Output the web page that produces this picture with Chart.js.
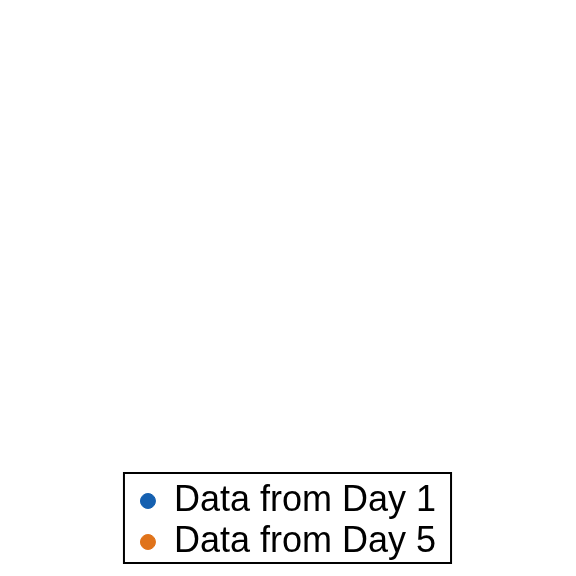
<!DOCTYPE html>
<html>
<head>
<meta charset="utf-8">
<script src="https://cdn.jsdelivr.net/npm/chart.js@4/dist/chart.umd.min.js"></script>
<style>
  html, body { margin: 0; padding: 0; background: #fff; }
  #wrap { width: 576px; height: 576px; position: relative; }
</style>
</head>
<body>
<div id="wrap"><canvas id="chart"></canvas></div>
<script>
// series shown in the figure (nothing is plotted, only the legend is visible)
const seriesNames = ['Data from Day 1', 'Data from Day 5'];
const seriesColors = ['#1560b0', '#e0731a'];
const day1Points = [];
const day5Points = [];

// draws the black frame round the legend entries
const legendFrame = {
    id: 'legendFrame',
    afterDraw(chart) {
        const boxes = chart.legend.legendHitBoxes;
        if (!boxes || !boxes.length) return;
        let l = Infinity, t = Infinity, r = -Infinity, b = -Infinity;
        boxes.forEach(h => {
            l = Math.min(l, h.left);
            t = Math.min(t, h.top);
            r = Math.max(r, h.left + h.width);
            b = Math.max(b, h.top + h.height);
        });
        const ctx = chart.ctx;
        ctx.save();
        ctx.strokeStyle = '#000';
        ctx.lineWidth = 2;
        ctx.strokeRect(l - 16, t - 10, (r + 15) - (l - 16), (b + 3) - (t - 10));
        ctx.restore();
    }
};

new Chart(document.getElementById('chart'), {
    type: 'scatter',
    data: {
        datasets: [
            { label: seriesNames[0], data: day1Points, backgroundColor: seriesColors[0], borderColor: seriesColors[0], pointStyle: 'circle' },
            { label: seriesNames[1], data: day5Points, backgroundColor: seriesColors[1], borderColor: seriesColors[1], pointStyle: 'circle' }
        ]
    },
    options: {
        responsive: true,
        maintainAspectRatio: false,
        animation: false,
        layout: { padding: { bottom: 6 } },
        scales: {
            x: { display: false },
            y: { display: false }
        },
        plugins: {
            tooltip: { enabled: false },
            legend: {
                position: 'bottom',
                labels: {
                    usePointStyle: true,
                    boxWidth: 16,
                    boxHeight: 10.6,
                    padding: 5,
                    color: '#000',
                    font: { family: '"Liberation Sans", Arial, sans-serif', size: 36 }
                }
            }
        }
    },
    plugins: [legendFrame]
});
</script>
</body>
</html>
